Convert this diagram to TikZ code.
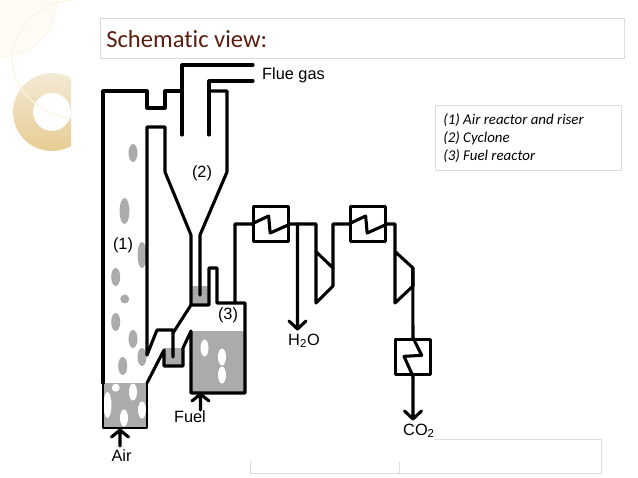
\documentclass[tikz,border=0pt]{standalone}
\usepackage{fontspec}
\newfontfamily\labelfont{Liberation Sans}
\newfontfamily\slidefont[Ligatures=NoCommon]{Carlito}
\definecolor{fillgray}{HTML}{ABABAB}
\definecolor{framegray}{HTML}{DCDCDC}
\definecolor{titlered}{HTML}{5A1E12}
\definecolor{ringtop}{HTML}{F3EAD6}
\definecolor{ringbottom}{HTML}{E8CC93}
\definecolor{cornerpale}{HTML}{FEFBF4}
\definecolor{arcpale}{HTML}{FCF4E3}
\tikzset{
  pipe/.style={line width=2.2pt,line join=round,line cap=round,black},
  bedwall/.style={pipe,line width=2pt},
  hxbox/.style={draw,line width=2.2pt,minimum size=0.89cm,inner sep=0pt},
  lab/.style={font=\labelfont\fontsize{11.6}{13}\selectfont,inner sep=0pt},
  frame/.style={draw=framegray,line width=0.7pt}
}
\begin{document}
\begin{tikzpicture}[x=0.025cm,y=-0.025cm,line cap=round,line join=round]
\useasboundingbox (0,0) rectangle (638,478);
\fill[white] (0,0) rectangle (638,478);
% slide decoration
\begin{scope}
\clip (0,0) rectangle (71,160);
\fill[cornerpale] (0,0) -- (57,0) .. controls (57,32) and (32,57) .. (0,57) -- cycle;
\draw[arcpale,line width=0.5pt] (57,0) .. controls (57,32) and (32,57) .. (0,57);
\shade[even odd rule,top color=ringtop,bottom color=ringbottom] (52,112) circle (39) (52,112) circle (19);
\draw[arcpale,line width=0.8pt] (72,0) .. controls (35,3) and (10,35) .. (12,63) .. controls (14,90) and (40,115) .. (71,118);
\end{scope}
% frames
\draw[frame] (100,18.5) rectangle (624,58);
\node[frame,fill=white,minimum width=4.65cm,minimum height=1.61cm,inner sep=0pt] (legend) at (528.7,138) {};
\draw[frame] (250,462) -- (250,473) -- (601,473) -- (601,439) -- (434,439);
\draw[frame] (399,462) -- (399,473);
\node[anchor=west,inner sep=0pt,text=titlered,font=\slidefont\fontsize{17.5}{20}\selectfont] (title) at (106,39) {Schematic view:};
\node[anchor=north west,inner sep=0pt,align=left,font=\slidefont\itshape\fontsize{10.6}{12.8}\selectfont] (legendtext) at (443,113) {(1) Air reactor and riser\\(2) Cyclone\\(3) Fuel reactor};
% gray fills
\fill[fillgray] (103,383) rectangle (147,428);
\fill[fillgray] (191,331) rectangle (245,393);
\fill[fillgray] (191,286) rectangle (209,305);
\fill[fillgray] (164,348) rectangle (183,366);
% particles
\foreach \ex/\ey/\rx/\ry in {133/153/4.5/9,124.5/211/5/13,142/255/4.5/13,115.7/277/4.5/9,124.7/299/4.5/4.5,115.7/322/4.5/9,133/339/4.5/9,142/357/4.5/9,122.7/366/4.5/9}
  \fill[fillgray] (\ex,\ey) ellipse [x radius=\rx,y radius=\ry];
\foreach \ex/\ey/\rx/\ry in {115.7/387.7/4/4,133/392/4/8.5,107.5/405/4/13,142/410/4/8.5,124/418/4/8.5,204.5/348/4/8.5,222/357/4/8.5,222/375/4/8.5}
  \fill[white] (\ex,\ey) ellipse [x radius=\rx,y radius=\ry];
% riser and cyclone
\draw[pipe] (103,383) -- (103,91) -- (147,91) -- (147,108) -- (165,108) -- (165,91) -- (182,91);
\draw[pipe] (182,135) -- (182,65) -- (253,65);
\draw[pipe] (209,135) -- (209,81) -- (253,81);
\draw[pipe] (209,91) -- (227,91) -- (227,172) -- (200,235) -- (200,295);
\draw[pipe] (147,355) -- (147,127) -- (165,127) -- (165,172) -- (191,235) -- (191,305) -- (209,305) -- (209,268) -- (217,268) -- (217,303) -- (245,303) -- (245,393) -- (191,393) -- (191,331) -- (183,348) -- (183,366) -- (164,366) -- (164,350) -- (147,383);
\draw[bedwall] (103,383) -- (103,428) -- (147,428) -- (147,383);
\draw[pipe] (147,355) -- (157,330) -- (173,330) -- (173,357);
\draw[pipe] (173,333) -- (191,305);
% gas line
\node[hxbox] (hxa) at (271,224) {};
\node[hxbox] (hxb) at (368,224) {};
\node[hxbox] (hxc) at (413,357) {};
\coordinate (tura) at (316,224);
\coordinate (turb) at (333,224);
\coordinate (turc) at (395,224);
\coordinate (water) at (297.5,224);
\coordinate (outlet) at (235,303);
\draw[pipe] (outlet) |- (hxa.west) -- ++(17,-8) -- ++(1.5,17) -- (hxa.east) -- (tura) -- ++(0,79) -- ++(17,-17) -- (turb) -- (hxb.west) -- ++(17,-8) -- ++(1.5,17) -- (hxb.east) -- (turc) -- ++(0,79) -- ++(18,-17) -- ++(0,-18) -- ++(-18,-16.5);
\draw[pipe] (316,251.7) -- (333,268);
\draw[pipe] (412.7,268) -- (hxc.north) -- ++(8.7,17.7) -- ++(-17.7,1) -- (hxc.south);
% arrows
\node[lab] (h2o) at (304,341) {H\textsubscript{2}O};
\node[lab] (co2) at (419,431) {CO\textsubscript{2}};
\node[lab] (air) at (121.5,456) {Air};
\node[lab] (fuel) at (190,417) {Fuel};
\node[lab] (flue) at (293.5,75) {Flue gas};
\node[lab] (one) at (123,245) {(1)};
\node[lab] (two) at (202,173) {(2)};
\node[lab] (three) at (228,315) {(3)};
\coordinate (watertip) at (297.5,329);
\coordinate (co2tip) at (413,419);
\coordinate (airtip) at (120,430);
\coordinate (fueltip) at (200.5,394);
\draw[pipe] (water) -- (watertip) ++(-8.5,-8) -- (watertip) -- ++(8.5,-8);
\draw[pipe] (hxc.south) -- (co2tip) ++(-8.5,-8) -- (co2tip) -- ++(8.5,-8);
\draw[pipe] (120,446) -- (airtip) ++(-8.5,7) -- (airtip) -- ++(8.5,7);
\draw[pipe] (200.5,410) -- (fueltip) ++(-8.5,7) -- (fueltip) -- ++(8.5,7);
\end{tikzpicture}
\end{document}
